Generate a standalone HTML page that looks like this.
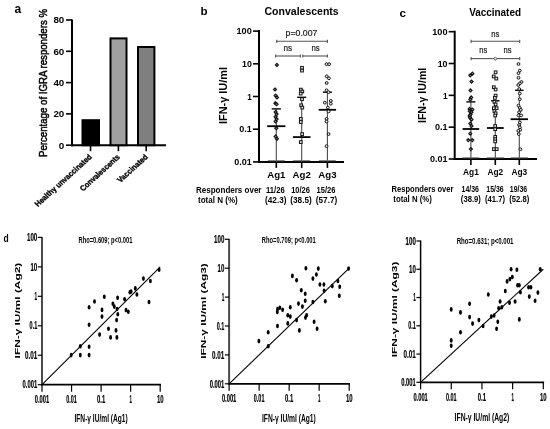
<!DOCTYPE html>
<html><head><meta charset="utf-8"><style>
html,body{margin:0;padding:0;background:#fff;}
svg{display:block;font-family:"Liberation Sans", sans-serif;filter:blur(0.35px);}
</style></head><body>
<svg width="550" height="429" viewBox="0 0 550 429">
<rect width="550" height="429" fill="#fff"/>
<text x="14.60" y="12.60" font-size="12" font-weight="700" text-anchor="start" fill="#000">a</text>
<line x1="72.00" y1="19.50" x2="72.00" y2="146.20" stroke="#000" stroke-width="2" stroke-linecap="butt"/>
<line x1="71.00" y1="145.20" x2="166.00" y2="145.20" stroke="#000" stroke-width="2" stroke-linecap="butt"/>
<line x1="66.00" y1="145.20" x2="72.00" y2="145.20" stroke="#000" stroke-width="1.6" stroke-linecap="butt"/>
<text x="64.30" y="148.50" font-size="9.3" font-weight="700" text-anchor="end" fill="#000" textLength="5.50" lengthAdjust="spacingAndGlyphs">0</text>
<line x1="66.00" y1="113.90" x2="72.00" y2="113.90" stroke="#000" stroke-width="1.6" stroke-linecap="butt"/>
<text x="64.30" y="117.20" font-size="9.3" font-weight="700" text-anchor="end" fill="#000" textLength="10.90" lengthAdjust="spacingAndGlyphs">20</text>
<line x1="66.00" y1="82.60" x2="72.00" y2="82.60" stroke="#000" stroke-width="1.6" stroke-linecap="butt"/>
<text x="64.30" y="85.90" font-size="9.3" font-weight="700" text-anchor="end" fill="#000" textLength="10.90" lengthAdjust="spacingAndGlyphs">40</text>
<line x1="66.00" y1="51.30" x2="72.00" y2="51.30" stroke="#000" stroke-width="1.6" stroke-linecap="butt"/>
<text x="64.30" y="54.60" font-size="9.3" font-weight="700" text-anchor="end" fill="#000" textLength="10.90" lengthAdjust="spacingAndGlyphs">60</text>
<line x1="66.00" y1="20.00" x2="72.00" y2="20.00" stroke="#000" stroke-width="1.6" stroke-linecap="butt"/>
<text x="64.30" y="23.30" font-size="9.3" font-weight="700" text-anchor="end" fill="#000" textLength="10.90" lengthAdjust="spacingAndGlyphs">80</text>
<rect x="82.50" y="120.20" width="16.50" height="25.00" fill="#000" stroke="#000" stroke-width="2.0"/>
<rect x="110.50" y="38.40" width="16.00" height="106.80" fill="#a0a0a0" stroke="#000" stroke-width="2.0"/>
<rect x="138.00" y="47.00" width="16.40" height="98.20" fill="#7f7f7f" stroke="#000" stroke-width="2.0"/>
<line x1="90.50" y1="145.20" x2="90.50" y2="151.20" stroke="#000" stroke-width="1.6" stroke-linecap="butt"/>
<line x1="118.40" y1="145.20" x2="118.40" y2="151.20" stroke="#000" stroke-width="1.6" stroke-linecap="butt"/>
<line x1="146.20" y1="145.20" x2="146.20" y2="151.20" stroke="#000" stroke-width="1.6" stroke-linecap="butt"/>
<text transform="translate(47.20,83.00) scale(1.18,1) rotate(-90)" x="0" y="0" font-size="9.6" font-weight="400" text-anchor="middle" fill="#000" textLength="148.00" lengthAdjust="spacingAndGlyphs" stroke="#000" stroke-width="0.4">Percentage of IGRA responders %</text>
<text transform="translate(92.50,157.50) scale(1.1,1) rotate(-45)" x="0" y="0" font-size="7.6" font-weight="700" text-anchor="end" fill="#000" stroke="#000" stroke-width="0.3" textLength="70.00" lengthAdjust="spacingAndGlyphs">Healthy unvaccinated</text>
<text transform="translate(120.50,157.50) scale(1.1,1) rotate(-45)" x="0" y="0" font-size="7.6" font-weight="700" text-anchor="end" fill="#000" stroke="#000" stroke-width="0.3" textLength="48.00" lengthAdjust="spacingAndGlyphs">Convalescents</text>
<text transform="translate(148.50,157.50) scale(1.1,1) rotate(-45)" x="0" y="0" font-size="7.6" font-weight="700" text-anchor="end" fill="#000" stroke="#000" stroke-width="0.3" textLength="36.00" lengthAdjust="spacingAndGlyphs">Vaccinated</text>
<text x="200.40" y="15.10" font-size="11.6" font-weight="700" text-anchor="start" fill="#000">b</text>
<text x="264.50" y="15.00" font-size="10.4" font-weight="700" text-anchor="start" fill="#000" textLength="74.20" lengthAdjust="spacingAndGlyphs">Convalescents</text>
<line x1="259.00" y1="30.10" x2="259.00" y2="162.90" stroke="#000" stroke-width="2" stroke-linecap="butt"/>
<line x1="258.00" y1="161.90" x2="344.00" y2="161.90" stroke="#000" stroke-width="2" stroke-linecap="butt"/>
<line x1="253.00" y1="31.10" x2="259.00" y2="31.10" stroke="#000" stroke-width="1.6" stroke-linecap="butt"/>
<text x="251.80" y="34.30" font-size="9" font-weight="700" text-anchor="end" fill="#000" textLength="15.30" lengthAdjust="spacingAndGlyphs">100</text>
<line x1="253.00" y1="63.80" x2="259.00" y2="63.80" stroke="#000" stroke-width="1.6" stroke-linecap="butt"/>
<text x="251.80" y="67.00" font-size="9" font-weight="700" text-anchor="end" fill="#000" textLength="9.80" lengthAdjust="spacingAndGlyphs">10</text>
<line x1="253.00" y1="96.50" x2="259.00" y2="96.50" stroke="#000" stroke-width="1.6" stroke-linecap="butt"/>
<text x="251.80" y="99.70" font-size="9" font-weight="700" text-anchor="end" fill="#000" textLength="4.60" lengthAdjust="spacingAndGlyphs">1</text>
<line x1="253.00" y1="129.20" x2="259.00" y2="129.20" stroke="#000" stroke-width="1.6" stroke-linecap="butt"/>
<text x="251.80" y="132.40" font-size="9" font-weight="700" text-anchor="end" fill="#000" textLength="12.60" lengthAdjust="spacingAndGlyphs">0.1</text>
<line x1="253.00" y1="161.90" x2="259.00" y2="161.90" stroke="#000" stroke-width="1.6" stroke-linecap="butt"/>
<text x="251.80" y="165.10" font-size="9" font-weight="700" text-anchor="end" fill="#000" textLength="17.60" lengthAdjust="spacingAndGlyphs">0.01</text>
<text transform="translate(227.10,95.50) rotate(-90)" x="0" y="0" font-size="10.6" font-weight="700" text-anchor="middle" fill="#000" textLength="57.00" lengthAdjust="spacingAndGlyphs">IFN-γ IU/ml</text>
<line x1="276.30" y1="161.90" x2="276.30" y2="167.90" stroke="#000" stroke-width="1.6" stroke-linecap="butt"/>
<text x="276.30" y="178.30" font-size="9.6" font-weight="700" text-anchor="middle" fill="#000" textLength="18.20" lengthAdjust="spacingAndGlyphs">Ag1</text>
<line x1="301.70" y1="161.90" x2="301.70" y2="167.90" stroke="#000" stroke-width="1.6" stroke-linecap="butt"/>
<text x="301.70" y="178.30" font-size="9.6" font-weight="700" text-anchor="middle" fill="#000" textLength="18.20" lengthAdjust="spacingAndGlyphs">Ag2</text>
<line x1="327.40" y1="161.90" x2="327.40" y2="167.90" stroke="#000" stroke-width="1.6" stroke-linecap="butt"/>
<text x="327.40" y="178.30" font-size="9.6" font-weight="700" text-anchor="middle" fill="#000" textLength="18.20" lengthAdjust="spacingAndGlyphs">Ag3</text>
<text x="196.00" y="193.00" font-size="8.5" font-weight="700" text-anchor="start" fill="#000" textLength="65.50" lengthAdjust="spacingAndGlyphs">Responders over</text>
<text x="198.00" y="202.50" font-size="8.5" font-weight="700" text-anchor="start" fill="#000" textLength="39.80" lengthAdjust="spacingAndGlyphs">total N (%)</text>
<text x="275.35" y="193.00" font-size="8.5" font-weight="700" text-anchor="middle" fill="#000" textLength="18.80" lengthAdjust="spacingAndGlyphs">11/26</text>
<text x="275.80" y="202.50" font-size="8.5" font-weight="700" text-anchor="middle" fill="#000" textLength="21.40" lengthAdjust="spacingAndGlyphs">(42.3)</text>
<text x="300.55" y="193.00" font-size="8.5" font-weight="700" text-anchor="middle" fill="#000" textLength="18.80" lengthAdjust="spacingAndGlyphs">10/26</text>
<text x="301.00" y="202.50" font-size="8.5" font-weight="700" text-anchor="middle" fill="#000" textLength="21.40" lengthAdjust="spacingAndGlyphs">(38.5)</text>
<text x="326.00" y="193.00" font-size="8.5" font-weight="700" text-anchor="middle" fill="#000" textLength="18.80" lengthAdjust="spacingAndGlyphs">15/26</text>
<text x="326.50" y="202.50" font-size="8.5" font-weight="700" text-anchor="middle" fill="#000" textLength="21.40" lengthAdjust="spacingAndGlyphs">(57.7)</text>
<text x="399.60" y="16.60" font-size="11.6" font-weight="700" text-anchor="start" fill="#000">c</text>
<text x="469.20" y="15.90" font-size="10.4" font-weight="700" text-anchor="start" fill="#000" textLength="51.80" lengthAdjust="spacingAndGlyphs">Vaccinated</text>
<line x1="454.70" y1="30.70" x2="454.70" y2="160.00" stroke="#000" stroke-width="2" stroke-linecap="butt"/>
<line x1="453.70" y1="159.00" x2="537.00" y2="159.00" stroke="#000" stroke-width="2" stroke-linecap="butt"/>
<line x1="448.70" y1="31.70" x2="454.70" y2="31.70" stroke="#000" stroke-width="1.6" stroke-linecap="butt"/>
<text x="447.50" y="34.90" font-size="9" font-weight="700" text-anchor="end" fill="#000" textLength="15.30" lengthAdjust="spacingAndGlyphs">100</text>
<line x1="448.70" y1="63.52" x2="454.70" y2="63.52" stroke="#000" stroke-width="1.6" stroke-linecap="butt"/>
<text x="447.50" y="66.72" font-size="9" font-weight="700" text-anchor="end" fill="#000" textLength="9.80" lengthAdjust="spacingAndGlyphs">10</text>
<line x1="448.70" y1="95.35" x2="454.70" y2="95.35" stroke="#000" stroke-width="1.6" stroke-linecap="butt"/>
<text x="447.50" y="98.55" font-size="9" font-weight="700" text-anchor="end" fill="#000" textLength="4.60" lengthAdjust="spacingAndGlyphs">1</text>
<line x1="448.70" y1="127.17" x2="454.70" y2="127.17" stroke="#000" stroke-width="1.6" stroke-linecap="butt"/>
<text x="447.50" y="130.38" font-size="9" font-weight="700" text-anchor="end" fill="#000" textLength="12.60" lengthAdjust="spacingAndGlyphs">0.1</text>
<line x1="448.70" y1="159.00" x2="454.70" y2="159.00" stroke="#000" stroke-width="1.6" stroke-linecap="butt"/>
<text x="447.50" y="162.20" font-size="9" font-weight="700" text-anchor="end" fill="#000" textLength="17.60" lengthAdjust="spacingAndGlyphs">0.01</text>
<text transform="translate(426.30,95.40) rotate(-90)" x="0" y="0" font-size="10.6" font-weight="700" text-anchor="middle" fill="#000" textLength="55.30" lengthAdjust="spacingAndGlyphs">IFN-γ IU/ml</text>
<line x1="470.90" y1="159.00" x2="470.90" y2="165.00" stroke="#000" stroke-width="1.6" stroke-linecap="butt"/>
<text x="470.90" y="174.80" font-size="9.0" font-weight="700" text-anchor="middle" fill="#000" textLength="15.80" lengthAdjust="spacingAndGlyphs">Ag1</text>
<line x1="495.30" y1="159.00" x2="495.30" y2="165.00" stroke="#000" stroke-width="1.6" stroke-linecap="butt"/>
<text x="495.30" y="174.80" font-size="9.0" font-weight="700" text-anchor="middle" fill="#000" textLength="15.80" lengthAdjust="spacingAndGlyphs">Ag2</text>
<line x1="519.30" y1="159.00" x2="519.30" y2="165.00" stroke="#000" stroke-width="1.6" stroke-linecap="butt"/>
<text x="519.30" y="174.80" font-size="9.0" font-weight="700" text-anchor="middle" fill="#000" textLength="15.80" lengthAdjust="spacingAndGlyphs">Ag3</text>
<text x="391.60" y="192.30" font-size="8.5" font-weight="700" text-anchor="start" fill="#000" textLength="61.90" lengthAdjust="spacingAndGlyphs">Responders over</text>
<text x="393.30" y="201.80" font-size="8.5" font-weight="700" text-anchor="start" fill="#000" textLength="38.50" lengthAdjust="spacingAndGlyphs">total N (%)</text>
<text x="470.25" y="192.30" font-size="8.5" font-weight="700" text-anchor="middle" fill="#000" textLength="17.40" lengthAdjust="spacingAndGlyphs">14/36</text>
<text x="470.85" y="201.80" font-size="8.5" font-weight="700" text-anchor="middle" fill="#000" textLength="20.00" lengthAdjust="spacingAndGlyphs">(38.9)</text>
<text x="495.05" y="192.30" font-size="8.5" font-weight="700" text-anchor="middle" fill="#000" textLength="17.40" lengthAdjust="spacingAndGlyphs">15/36</text>
<text x="495.05" y="201.80" font-size="8.5" font-weight="700" text-anchor="middle" fill="#000" textLength="20.00" lengthAdjust="spacingAndGlyphs">(41.7)</text>
<text x="518.50" y="192.30" font-size="8.5" font-weight="700" text-anchor="middle" fill="#000" textLength="17.40" lengthAdjust="spacingAndGlyphs">19/36</text>
<text x="519.30" y="201.80" font-size="8.5" font-weight="700" text-anchor="middle" fill="#000" textLength="20.00" lengthAdjust="spacingAndGlyphs">(52.8)</text>
<line x1="276.30" y1="108.90" x2="276.30" y2="161.90" stroke="#4a4a4a" stroke-width="1.1" stroke-linecap="butt"/>
<line x1="267.20" y1="126.20" x2="285.40" y2="126.20" stroke="#000" stroke-width="1.8" stroke-linecap="butt"/>
<line x1="271.70" y1="108.90" x2="280.90" y2="108.90" stroke="#000" stroke-width="1.4" stroke-linecap="butt"/>
<line x1="301.70" y1="97.30" x2="301.70" y2="161.90" stroke="#4a4a4a" stroke-width="1.1" stroke-linecap="butt"/>
<line x1="292.90" y1="137.10" x2="310.50" y2="137.10" stroke="#000" stroke-width="1.8" stroke-linecap="butt"/>
<line x1="297.20" y1="97.30" x2="306.20" y2="97.30" stroke="#000" stroke-width="1.4" stroke-linecap="butt"/>
<line x1="327.40" y1="92.20" x2="327.40" y2="161.90" stroke="#4a4a4a" stroke-width="1.1" stroke-linecap="butt"/>
<line x1="318.70" y1="109.80" x2="336.10" y2="109.80" stroke="#000" stroke-width="1.8" stroke-linecap="butt"/>
<line x1="322.90" y1="92.20" x2="331.90" y2="92.20" stroke="#000" stroke-width="1.4" stroke-linecap="butt"/>
<line x1="470.90" y1="101.90" x2="470.90" y2="159.00" stroke="#4a4a4a" stroke-width="1.1" stroke-linecap="butt"/>
<line x1="462.60" y1="129.00" x2="479.20" y2="129.00" stroke="#000" stroke-width="1.8" stroke-linecap="butt"/>
<line x1="466.40" y1="101.90" x2="475.40" y2="101.90" stroke="#000" stroke-width="1.4" stroke-linecap="butt"/>
<line x1="495.30" y1="100.80" x2="495.30" y2="159.00" stroke="#4a4a4a" stroke-width="1.1" stroke-linecap="butt"/>
<line x1="486.90" y1="128.00" x2="503.70" y2="128.00" stroke="#000" stroke-width="1.8" stroke-linecap="butt"/>
<line x1="491.10" y1="100.80" x2="499.50" y2="100.80" stroke="#000" stroke-width="1.4" stroke-linecap="butt"/>
<line x1="519.30" y1="90.30" x2="519.30" y2="159.00" stroke="#4a4a4a" stroke-width="1.1" stroke-linecap="butt"/>
<line x1="510.60" y1="119.20" x2="528.00" y2="119.20" stroke="#000" stroke-width="1.8" stroke-linecap="butt"/>
<line x1="515.10" y1="90.30" x2="523.50" y2="90.30" stroke="#000" stroke-width="1.4" stroke-linecap="butt"/>
<path d="M276.90,63.35 L278.45,64.90 L276.90,66.45 L275.35,64.90 Z" fill="#aaa" stroke="#111" stroke-width="1.1"/>
<path d="M275.00,87.95 L276.55,89.50 L275.00,91.05 L273.45,89.50 Z" fill="#aaa" stroke="#111" stroke-width="1.1"/>
<path d="M275.60,94.05 L277.15,95.60 L275.60,97.15 L274.05,95.60 Z" fill="#aaa" stroke="#111" stroke-width="1.1"/>
<path d="M277.00,95.85 L278.55,97.40 L277.00,98.95 L275.45,97.40 Z" fill="#aaa" stroke="#111" stroke-width="1.1"/>
<path d="M275.40,101.65 L276.95,103.20 L275.40,104.75 L273.85,103.20 Z" fill="#aaa" stroke="#111" stroke-width="1.1"/>
<path d="M276.60,102.65 L278.15,104.20 L276.60,105.75 L275.05,104.20 Z" fill="#aaa" stroke="#111" stroke-width="1.1"/>
<path d="M275.60,110.45 L277.15,112.00 L275.60,113.55 L274.05,112.00 Z" fill="#aaa" stroke="#111" stroke-width="1.1"/>
<path d="M276.60,112.55 L278.15,114.10 L276.60,115.65 L275.05,114.10 Z" fill="#aaa" stroke="#111" stroke-width="1.1"/>
<path d="M275.60,115.25 L277.15,116.80 L275.60,118.35 L274.05,116.80 Z" fill="#aaa" stroke="#111" stroke-width="1.1"/>
<path d="M276.60,117.55 L278.15,119.10 L276.60,120.65 L275.05,119.10 Z" fill="#aaa" stroke="#111" stroke-width="1.1"/>
<path d="M275.60,119.85 L277.15,121.40 L275.60,122.95 L274.05,121.40 Z" fill="#aaa" stroke="#111" stroke-width="1.1"/>
<path d="M276.30,126.65 L277.85,128.20 L276.30,129.75 L274.75,128.20 Z" fill="#aaa" stroke="#111" stroke-width="1.1"/>
<path d="M275.60,134.95 L277.15,136.50 L275.60,138.05 L274.05,136.50 Z" fill="#aaa" stroke="#111" stroke-width="1.1"/>
<path d="M276.90,137.25 L278.45,138.80 L276.90,140.35 L275.35,138.80 Z" fill="#aaa" stroke="#111" stroke-width="1.1"/>
<rect x="300.65" y="66.45" width="2.7" height="2.7" fill="#eee" stroke="#111" stroke-width="1.0"/>
<rect x="300.65" y="69.25" width="2.7" height="2.7" fill="#eee" stroke="#111" stroke-width="1.0"/>
<rect x="299.55" y="88.25" width="2.7" height="2.7" fill="#eee" stroke="#111" stroke-width="1.0"/>
<rect x="300.95" y="90.15" width="2.7" height="2.7" fill="#eee" stroke="#111" stroke-width="1.0"/>
<rect x="299.35" y="92.25" width="2.7" height="2.7" fill="#eee" stroke="#111" stroke-width="1.0"/>
<rect x="300.65" y="97.85" width="2.7" height="2.7" fill="#eee" stroke="#111" stroke-width="1.0"/>
<rect x="299.85" y="103.95" width="2.7" height="2.7" fill="#eee" stroke="#111" stroke-width="1.0"/>
<rect x="300.95" y="106.25" width="2.7" height="2.7" fill="#eee" stroke="#111" stroke-width="1.0"/>
<rect x="299.45" y="117.55" width="2.7" height="2.7" fill="#eee" stroke="#111" stroke-width="1.0"/>
<rect x="299.45" y="120.65" width="2.7" height="2.7" fill="#eee" stroke="#111" stroke-width="1.0"/>
<rect x="300.75" y="132.75" width="2.7" height="2.7" fill="#eee" stroke="#111" stroke-width="1.0"/>
<rect x="299.45" y="140.75" width="2.7" height="2.7" fill="#eee" stroke="#111" stroke-width="1.0"/>
<circle cx="326.50" cy="64.20" r="1.4" fill="#eee" stroke="#111" stroke-width="1.0"/>
<circle cx="329.10" cy="64.20" r="1.4" fill="#eee" stroke="#111" stroke-width="1.0"/>
<circle cx="326.70" cy="76.30" r="1.4" fill="#eee" stroke="#111" stroke-width="1.0"/>
<circle cx="328.90" cy="78.30" r="1.4" fill="#eee" stroke="#111" stroke-width="1.0"/>
<circle cx="326.70" cy="83.00" r="1.4" fill="#eee" stroke="#111" stroke-width="1.0"/>
<circle cx="326.60" cy="90.30" r="1.4" fill="#eee" stroke="#111" stroke-width="1.0"/>
<circle cx="328.50" cy="92.20" r="1.4" fill="#eee" stroke="#111" stroke-width="1.0"/>
<circle cx="330.80" cy="100.90" r="1.4" fill="#eee" stroke="#111" stroke-width="1.0"/>
<circle cx="324.80" cy="102.70" r="1.4" fill="#eee" stroke="#111" stroke-width="1.0"/>
<circle cx="330.80" cy="103.70" r="1.4" fill="#eee" stroke="#111" stroke-width="1.0"/>
<circle cx="327.90" cy="107.60" r="1.4" fill="#eee" stroke="#111" stroke-width="1.0"/>
<circle cx="328.60" cy="111.40" r="1.4" fill="#eee" stroke="#111" stroke-width="1.0"/>
<circle cx="326.60" cy="118.90" r="1.4" fill="#eee" stroke="#111" stroke-width="1.0"/>
<circle cx="326.60" cy="121.50" r="1.4" fill="#eee" stroke="#111" stroke-width="1.0"/>
<circle cx="328.60" cy="134.10" r="1.4" fill="#eee" stroke="#111" stroke-width="1.0"/>
<circle cx="326.60" cy="146.20" r="1.4" fill="#eee" stroke="#111" stroke-width="1.0"/>
<path d="M472.40,72.15 L473.95,73.70 L472.40,75.25 L470.85,73.70 Z" fill="#aaa" stroke="#111" stroke-width="1.1"/>
<path d="M470.30,73.75 L471.85,75.30 L470.30,76.85 L468.75,75.30 Z" fill="#aaa" stroke="#111" stroke-width="1.1"/>
<path d="M471.50,80.05 L473.05,81.60 L471.50,83.15 L469.95,81.60 Z" fill="#aaa" stroke="#111" stroke-width="1.1"/>
<path d="M470.50,88.85 L472.05,90.40 L470.50,91.95 L468.95,90.40 Z" fill="#aaa" stroke="#111" stroke-width="1.1"/>
<path d="M471.20,95.85 L472.75,97.40 L471.20,98.95 L469.65,97.40 Z" fill="#aaa" stroke="#111" stroke-width="1.1"/>
<path d="M470.30,97.85 L471.85,99.40 L470.30,100.95 L468.75,99.40 Z" fill="#aaa" stroke="#111" stroke-width="1.1"/>
<path d="M469.60,107.35 L471.15,108.90 L469.60,110.45 L468.05,108.90 Z" fill="#aaa" stroke="#111" stroke-width="1.1"/>
<path d="M472.40,108.05 L473.95,109.60 L472.40,111.15 L470.85,109.60 Z" fill="#aaa" stroke="#111" stroke-width="1.1"/>
<path d="M469.80,109.65 L471.35,111.20 L469.80,112.75 L468.25,111.20 Z" fill="#aaa" stroke="#111" stroke-width="1.1"/>
<path d="M471.40,110.65 L472.95,112.20 L471.40,113.75 L469.85,112.20 Z" fill="#aaa" stroke="#111" stroke-width="1.1"/>
<path d="M470.50,112.75 L472.05,114.30 L470.50,115.85 L468.95,114.30 Z" fill="#aaa" stroke="#111" stroke-width="1.1"/>
<path d="M469.60,114.45 L471.15,116.00 L469.60,117.55 L468.05,116.00 Z" fill="#aaa" stroke="#111" stroke-width="1.1"/>
<path d="M470.00,116.25 L471.55,117.80 L470.00,119.35 L468.45,117.80 Z" fill="#aaa" stroke="#111" stroke-width="1.1"/>
<path d="M471.50,118.05 L473.05,119.60 L471.50,121.15 L469.95,119.60 Z" fill="#aaa" stroke="#111" stroke-width="1.1"/>
<path d="M470.30,121.95 L471.85,123.50 L470.30,125.05 L468.75,123.50 Z" fill="#aaa" stroke="#111" stroke-width="1.1"/>
<path d="M471.50,124.45 L473.05,126.00 L471.50,127.55 L469.95,126.00 Z" fill="#aaa" stroke="#111" stroke-width="1.1"/>
<path d="M470.30,132.15 L471.85,133.70 L470.30,135.25 L468.75,133.70 Z" fill="#aaa" stroke="#111" stroke-width="1.1"/>
<path d="M468.30,138.55 L469.85,140.10 L468.30,141.65 L466.75,140.10 Z" fill="#aaa" stroke="#111" stroke-width="1.1"/>
<path d="M472.30,138.55 L473.85,140.10 L472.30,141.65 L470.75,140.10 Z" fill="#aaa" stroke="#111" stroke-width="1.1"/>
<path d="M470.90,147.55 L472.45,149.10 L470.90,150.65 L469.35,149.10 Z" fill="#aaa" stroke="#111" stroke-width="1.1"/>
<rect x="494.25" y="70.95" width="2.7" height="2.7" fill="#eee" stroke="#111" stroke-width="1.0"/>
<rect x="492.35" y="75.15" width="2.7" height="2.7" fill="#eee" stroke="#111" stroke-width="1.0"/>
<rect x="494.95" y="77.25" width="2.7" height="2.7" fill="#eee" stroke="#111" stroke-width="1.0"/>
<rect x="492.45" y="85.85" width="2.7" height="2.7" fill="#eee" stroke="#111" stroke-width="1.0"/>
<rect x="494.25" y="88.15" width="2.7" height="2.7" fill="#eee" stroke="#111" stroke-width="1.0"/>
<rect x="494.25" y="94.25" width="2.7" height="2.7" fill="#eee" stroke="#111" stroke-width="1.0"/>
<rect x="493.55" y="96.55" width="2.7" height="2.7" fill="#eee" stroke="#111" stroke-width="1.0"/>
<rect x="493.05" y="100.55" width="2.7" height="2.7" fill="#eee" stroke="#111" stroke-width="1.0"/>
<rect x="494.25" y="103.05" width="2.7" height="2.7" fill="#eee" stroke="#111" stroke-width="1.0"/>
<rect x="492.45" y="106.85" width="2.7" height="2.7" fill="#eee" stroke="#111" stroke-width="1.0"/>
<rect x="495.25" y="106.85" width="2.7" height="2.7" fill="#eee" stroke="#111" stroke-width="1.0"/>
<rect x="493.05" y="109.65" width="2.7" height="2.7" fill="#eee" stroke="#111" stroke-width="1.0"/>
<rect x="494.25" y="111.95" width="2.7" height="2.7" fill="#eee" stroke="#111" stroke-width="1.0"/>
<rect x="493.85" y="114.15" width="2.7" height="2.7" fill="#eee" stroke="#111" stroke-width="1.0"/>
<rect x="493.85" y="124.65" width="2.7" height="2.7" fill="#eee" stroke="#111" stroke-width="1.0"/>
<rect x="493.85" y="127.85" width="2.7" height="2.7" fill="#eee" stroke="#111" stroke-width="1.0"/>
<rect x="493.85" y="135.55" width="2.7" height="2.7" fill="#eee" stroke="#111" stroke-width="1.0"/>
<rect x="493.85" y="137.85" width="2.7" height="2.7" fill="#eee" stroke="#111" stroke-width="1.0"/>
<rect x="493.85" y="140.05" width="2.7" height="2.7" fill="#eee" stroke="#111" stroke-width="1.0"/>
<rect x="492.55" y="147.75" width="2.7" height="2.7" fill="#eee" stroke="#111" stroke-width="1.0"/>
<rect x="495.35" y="147.75" width="2.7" height="2.7" fill="#eee" stroke="#111" stroke-width="1.0"/>
<circle cx="518.50" cy="64.00" r="1.4" fill="#eee" stroke="#111" stroke-width="1.0"/>
<circle cx="519.80" cy="70.60" r="1.4" fill="#eee" stroke="#111" stroke-width="1.0"/>
<circle cx="518.50" cy="73.20" r="1.4" fill="#eee" stroke="#111" stroke-width="1.0"/>
<circle cx="518.50" cy="77.80" r="1.4" fill="#eee" stroke="#111" stroke-width="1.0"/>
<circle cx="521.50" cy="82.00" r="1.4" fill="#eee" stroke="#111" stroke-width="1.0"/>
<circle cx="519.80" cy="83.50" r="1.4" fill="#eee" stroke="#111" stroke-width="1.0"/>
<circle cx="518.30" cy="85.00" r="1.4" fill="#eee" stroke="#111" stroke-width="1.0"/>
<circle cx="519.20" cy="89.00" r="1.4" fill="#eee" stroke="#111" stroke-width="1.0"/>
<circle cx="519.80" cy="93.50" r="1.4" fill="#eee" stroke="#111" stroke-width="1.0"/>
<circle cx="519.80" cy="99.20" r="1.4" fill="#eee" stroke="#111" stroke-width="1.0"/>
<circle cx="518.50" cy="105.60" r="1.4" fill="#eee" stroke="#111" stroke-width="1.0"/>
<circle cx="519.80" cy="107.90" r="1.4" fill="#eee" stroke="#111" stroke-width="1.0"/>
<circle cx="520.80" cy="109.90" r="1.4" fill="#eee" stroke="#111" stroke-width="1.0"/>
<circle cx="519.10" cy="112.20" r="1.4" fill="#eee" stroke="#111" stroke-width="1.0"/>
<circle cx="518.40" cy="115.40" r="1.4" fill="#eee" stroke="#111" stroke-width="1.0"/>
<circle cx="521.20" cy="115.40" r="1.4" fill="#eee" stroke="#111" stroke-width="1.0"/>
<circle cx="519.90" cy="122.40" r="1.4" fill="#eee" stroke="#111" stroke-width="1.0"/>
<circle cx="519.10" cy="125.00" r="1.4" fill="#eee" stroke="#111" stroke-width="1.0"/>
<circle cx="519.90" cy="127.30" r="1.4" fill="#eee" stroke="#111" stroke-width="1.0"/>
<circle cx="520.20" cy="129.80" r="1.4" fill="#eee" stroke="#111" stroke-width="1.0"/>
<circle cx="518.30" cy="130.90" r="1.4" fill="#eee" stroke="#111" stroke-width="1.0"/>
<circle cx="518.80" cy="134.10" r="1.4" fill="#eee" stroke="#111" stroke-width="1.0"/>
<circle cx="520.40" cy="149.20" r="1.4" fill="#eee" stroke="#111" stroke-width="1.0"/>
<line x1="267.80" y1="160.80" x2="284.80" y2="160.80" stroke="#555" stroke-width="1.0" stroke-linecap="butt"/>
<line x1="293.20" y1="160.80" x2="310.20" y2="160.80" stroke="#555" stroke-width="1.0" stroke-linecap="butt"/>
<line x1="318.90" y1="160.80" x2="335.90" y2="160.80" stroke="#555" stroke-width="1.0" stroke-linecap="butt"/>
<line x1="462.40" y1="157.90" x2="479.40" y2="157.90" stroke="#555" stroke-width="1.0" stroke-linecap="butt"/>
<line x1="486.80" y1="157.90" x2="503.80" y2="157.90" stroke="#555" stroke-width="1.0" stroke-linecap="butt"/>
<line x1="510.80" y1="157.90" x2="527.80" y2="157.90" stroke="#555" stroke-width="1.0" stroke-linecap="butt"/>
<line x1="276.70" y1="41.30" x2="327.40" y2="41.30" stroke="#555" stroke-width="1.1" stroke-linecap="butt"/>
<line x1="276.70" y1="39.70" x2="276.70" y2="42.90" stroke="#555" stroke-width="1.1" stroke-linecap="butt"/>
<line x1="327.40" y1="39.70" x2="327.40" y2="42.90" stroke="#555" stroke-width="1.1" stroke-linecap="butt"/>
<line x1="275.60" y1="56.00" x2="300.40" y2="56.00" stroke="#555" stroke-width="1.1" stroke-linecap="butt"/>
<line x1="275.60" y1="54.40" x2="275.60" y2="57.60" stroke="#555" stroke-width="1.1" stroke-linecap="butt"/>
<line x1="300.40" y1="54.40" x2="300.40" y2="57.60" stroke="#555" stroke-width="1.1" stroke-linecap="butt"/>
<line x1="302.70" y1="56.00" x2="327.40" y2="56.00" stroke="#555" stroke-width="1.1" stroke-linecap="butt"/>
<line x1="302.70" y1="54.40" x2="302.70" y2="57.60" stroke="#555" stroke-width="1.1" stroke-linecap="butt"/>
<line x1="327.40" y1="54.40" x2="327.40" y2="57.60" stroke="#555" stroke-width="1.1" stroke-linecap="butt"/>
<text x="285.60" y="35.90" font-size="8.6" font-weight="400" text-anchor="start" fill="#1a1a1a" textLength="31.80" lengthAdjust="spacingAndGlyphs" stroke="#1a1a1a" stroke-width="0.2">p=0.007</text>
<text x="283.60" y="51.10" font-size="8.6" font-weight="400" text-anchor="start" fill="#1a1a1a" textLength="8.60" lengthAdjust="spacingAndGlyphs" stroke="#1a1a1a" stroke-width="0.2">ns</text>
<text x="311.40" y="51.10" font-size="8.6" font-weight="400" text-anchor="start" fill="#1a1a1a" textLength="8.20" lengthAdjust="spacingAndGlyphs" stroke="#1a1a1a" stroke-width="0.2">ns</text>
<line x1="471.10" y1="41.30" x2="519.70" y2="41.30" stroke="#555" stroke-width="1.1" stroke-linecap="butt"/>
<line x1="471.10" y1="39.70" x2="471.10" y2="42.90" stroke="#555" stroke-width="1.1" stroke-linecap="butt"/>
<line x1="519.70" y1="39.70" x2="519.70" y2="42.90" stroke="#555" stroke-width="1.1" stroke-linecap="butt"/>
<line x1="471.10" y1="58.60" x2="495.30" y2="58.60" stroke="#555" stroke-width="1.1" stroke-linecap="butt"/>
<line x1="471.10" y1="57.00" x2="471.10" y2="60.20" stroke="#555" stroke-width="1.1" stroke-linecap="butt"/>
<line x1="495.30" y1="57.00" x2="495.30" y2="60.20" stroke="#555" stroke-width="1.1" stroke-linecap="butt"/>
<line x1="495.30" y1="58.60" x2="519.70" y2="58.60" stroke="#555" stroke-width="1.1" stroke-linecap="butt"/>
<line x1="495.30" y1="57.00" x2="495.30" y2="60.20" stroke="#555" stroke-width="1.1" stroke-linecap="butt"/>
<line x1="519.70" y1="57.00" x2="519.70" y2="60.20" stroke="#555" stroke-width="1.1" stroke-linecap="butt"/>
<circle cx="495.3" cy="58.6" r="1.3" fill="#fff" stroke="#555" stroke-width="0.8"/>
<text x="491.20" y="36.70" font-size="8.6" font-weight="400" text-anchor="start" fill="#1a1a1a" textLength="8.00" lengthAdjust="spacingAndGlyphs" stroke="#1a1a1a" stroke-width="0.2">ns</text>
<text x="479.30" y="53.00" font-size="8.6" font-weight="400" text-anchor="start" fill="#1a1a1a" textLength="7.80" lengthAdjust="spacingAndGlyphs" stroke="#1a1a1a" stroke-width="0.2">ns</text>
<text x="503.50" y="53.00" font-size="8.6" font-weight="400" text-anchor="start" fill="#1a1a1a" textLength="8.00" lengthAdjust="spacingAndGlyphs" stroke="#1a1a1a" stroke-width="0.2">ns</text>
<text x="3.60" y="242.00" font-size="10.6" font-weight="700" text-anchor="start" fill="#000" textLength="5.20" lengthAdjust="spacingAndGlyphs">d</text>
<line x1="42.00" y1="236.90" x2="42.00" y2="385.50" stroke="#4a4a4a" stroke-width="2.0" stroke-linecap="butt"/>
<line x1="41.40" y1="384.70" x2="161.00" y2="384.70" stroke="#000" stroke-width="1.7" stroke-linecap="butt"/>
<line x1="37.80" y1="237.40" x2="42.00" y2="237.40" stroke="#000" stroke-width="1.2" stroke-linecap="butt"/>
<text x="37.20" y="241.10" font-size="10.2" font-weight="700" text-anchor="end" fill="#000" textLength="10.20" lengthAdjust="spacingAndGlyphs" stroke="#000" stroke-width="0.2">100</text>
<line x1="37.80" y1="266.86" x2="42.00" y2="266.86" stroke="#000" stroke-width="1.2" stroke-linecap="butt"/>
<text x="37.20" y="270.56" font-size="10.2" font-weight="700" text-anchor="end" fill="#000" textLength="6.80" lengthAdjust="spacingAndGlyphs" stroke="#000" stroke-width="0.2">10</text>
<line x1="37.80" y1="296.32" x2="42.00" y2="296.32" stroke="#000" stroke-width="1.2" stroke-linecap="butt"/>
<text x="37.20" y="300.02" font-size="10.2" font-weight="700" text-anchor="end" fill="#000" textLength="2.60" lengthAdjust="spacingAndGlyphs" stroke="#000" stroke-width="0.2">1</text>
<line x1="37.80" y1="325.78" x2="42.00" y2="325.78" stroke="#000" stroke-width="1.2" stroke-linecap="butt"/>
<text x="37.20" y="329.48" font-size="10.2" font-weight="700" text-anchor="end" fill="#000" textLength="7.60" lengthAdjust="spacingAndGlyphs" stroke="#000" stroke-width="0.2">0.1</text>
<line x1="37.80" y1="355.24" x2="42.00" y2="355.24" stroke="#000" stroke-width="1.2" stroke-linecap="butt"/>
<text x="37.20" y="358.94" font-size="10.2" font-weight="700" text-anchor="end" fill="#000" textLength="12.20" lengthAdjust="spacingAndGlyphs" stroke="#000" stroke-width="0.2">0.01</text>
<line x1="37.80" y1="384.70" x2="42.00" y2="384.70" stroke="#000" stroke-width="1.2" stroke-linecap="butt"/>
<text x="37.20" y="388.40" font-size="10.2" font-weight="700" text-anchor="end" fill="#000" textLength="14.60" lengthAdjust="spacingAndGlyphs" stroke="#000" stroke-width="0.2">0.001</text>
<line x1="42.00" y1="384.70" x2="42.00" y2="391.70" stroke="#000" stroke-width="1.2" stroke-linecap="butt"/>
<text x="42.00" y="403.10" font-size="10.2" font-weight="700" text-anchor="middle" fill="#000" textLength="14.40" lengthAdjust="spacingAndGlyphs" stroke="#000" stroke-width="0.2">0.001</text>
<line x1="71.55" y1="384.70" x2="71.55" y2="391.70" stroke="#000" stroke-width="1.2" stroke-linecap="butt"/>
<text x="71.55" y="403.10" font-size="10.2" font-weight="700" text-anchor="middle" fill="#000" textLength="10.60" lengthAdjust="spacingAndGlyphs" stroke="#000" stroke-width="0.2">0.01</text>
<line x1="101.10" y1="384.70" x2="101.10" y2="391.70" stroke="#000" stroke-width="1.2" stroke-linecap="butt"/>
<text x="101.10" y="403.10" font-size="10.2" font-weight="700" text-anchor="middle" fill="#000" textLength="8.20" lengthAdjust="spacingAndGlyphs" stroke="#000" stroke-width="0.2">0.1</text>
<line x1="130.65" y1="384.70" x2="130.65" y2="391.70" stroke="#000" stroke-width="1.2" stroke-linecap="butt"/>
<text x="130.65" y="403.10" font-size="10.2" font-weight="700" text-anchor="middle" fill="#000" textLength="2.40" lengthAdjust="spacingAndGlyphs" stroke="#000" stroke-width="0.2">1</text>
<line x1="160.20" y1="384.70" x2="160.20" y2="391.70" stroke="#000" stroke-width="1.2" stroke-linecap="butt"/>
<text x="160.20" y="403.10" font-size="10.2" font-weight="700" text-anchor="middle" fill="#000" textLength="6.60" lengthAdjust="spacingAndGlyphs" stroke="#000" stroke-width="0.2">10</text>
<line x1="42.00" y1="384.70" x2="160.20" y2="266.86" stroke="#000" stroke-width="1.1" stroke-linecap="butt"/>
<ellipse cx="159.10" cy="269.80" rx="1.45" ry="2.3" fill="#000"/>
<ellipse cx="143.40" cy="278.60" rx="1.45" ry="2.3" fill="#000"/>
<ellipse cx="150.40" cy="281.00" rx="1.45" ry="2.3" fill="#000"/>
<ellipse cx="135.30" cy="288.40" rx="1.45" ry="2.3" fill="#000"/>
<ellipse cx="129.90" cy="292.20" rx="1.45" ry="2.3" fill="#000"/>
<ellipse cx="131.10" cy="291.50" rx="1.45" ry="2.3" fill="#000"/>
<ellipse cx="136.90" cy="294.50" rx="1.45" ry="2.3" fill="#000"/>
<ellipse cx="104.30" cy="296.80" rx="1.45" ry="2.3" fill="#000"/>
<ellipse cx="117.60" cy="297.80" rx="1.45" ry="2.3" fill="#000"/>
<ellipse cx="124.60" cy="299.20" rx="1.45" ry="2.3" fill="#000"/>
<ellipse cx="94.50" cy="301.50" rx="1.45" ry="2.3" fill="#000"/>
<ellipse cx="149.00" cy="302.00" rx="1.45" ry="2.3" fill="#000"/>
<ellipse cx="112.90" cy="303.80" rx="1.45" ry="2.3" fill="#000"/>
<ellipse cx="114.30" cy="306.60" rx="1.45" ry="2.3" fill="#000"/>
<ellipse cx="89.10" cy="307.30" rx="1.45" ry="2.3" fill="#000"/>
<ellipse cx="117.10" cy="309.00" rx="1.45" ry="2.3" fill="#000"/>
<ellipse cx="102.00" cy="309.90" rx="1.45" ry="2.3" fill="#000"/>
<ellipse cx="126.00" cy="310.10" rx="1.45" ry="2.3" fill="#000"/>
<ellipse cx="128.30" cy="311.70" rx="1.45" ry="2.3" fill="#000"/>
<ellipse cx="117.80" cy="314.30" rx="1.45" ry="2.3" fill="#000"/>
<ellipse cx="102.00" cy="316.60" rx="1.45" ry="2.3" fill="#000"/>
<ellipse cx="116.60" cy="320.10" rx="1.45" ry="2.3" fill="#000"/>
<ellipse cx="89.10" cy="324.80" rx="1.45" ry="2.3" fill="#000"/>
<ellipse cx="108.50" cy="328.80" rx="1.45" ry="2.3" fill="#000"/>
<ellipse cx="116.00" cy="330.40" rx="1.45" ry="2.3" fill="#000"/>
<ellipse cx="99.60" cy="334.60" rx="1.45" ry="2.3" fill="#000"/>
<ellipse cx="110.60" cy="337.40" rx="1.45" ry="2.3" fill="#000"/>
<ellipse cx="116.90" cy="337.40" rx="1.45" ry="2.3" fill="#000"/>
<ellipse cx="80.30" cy="346.20" rx="1.45" ry="2.3" fill="#000"/>
<ellipse cx="89.10" cy="346.70" rx="1.45" ry="2.3" fill="#000"/>
<ellipse cx="71.20" cy="355.10" rx="1.45" ry="2.3" fill="#000"/>
<ellipse cx="80.30" cy="355.10" rx="1.45" ry="2.3" fill="#000"/>
<ellipse cx="89.10" cy="355.10" rx="1.45" ry="2.3" fill="#000"/>
<text x="78.50" y="242.60" font-size="9.2" font-weight="700" text-anchor="start" fill="#000" textLength="53.90" lengthAdjust="spacingAndGlyphs">Rho=0.609; p&lt;0.001</text>
<text x="74.50" y="421.80" font-size="11.0" font-weight="700" text-anchor="start" fill="#000" textLength="53.20" lengthAdjust="spacingAndGlyphs">IFN-γ IU/ml (Ag1)</text>
<text transform="translate(19.70,310.60) rotate(-90)" x="0" y="0" font-size="7.8" font-weight="700" text-anchor="middle" fill="#000" textLength="95.60" lengthAdjust="spacingAndGlyphs">IFN-γ IU/ml (Ag2)</text>
<line x1="229.10" y1="238.80" x2="229.10" y2="384.60" stroke="#4a4a4a" stroke-width="2.0" stroke-linecap="butt"/>
<line x1="228.50" y1="383.80" x2="350.00" y2="383.80" stroke="#000" stroke-width="1.7" stroke-linecap="butt"/>
<line x1="224.90" y1="239.30" x2="229.10" y2="239.30" stroke="#000" stroke-width="1.2" stroke-linecap="butt"/>
<text x="224.30" y="243.00" font-size="10.2" font-weight="700" text-anchor="end" fill="#000" textLength="10.20" lengthAdjust="spacingAndGlyphs" stroke="#000" stroke-width="0.2">100</text>
<line x1="224.90" y1="268.20" x2="229.10" y2="268.20" stroke="#000" stroke-width="1.2" stroke-linecap="butt"/>
<text x="224.30" y="271.90" font-size="10.2" font-weight="700" text-anchor="end" fill="#000" textLength="6.80" lengthAdjust="spacingAndGlyphs" stroke="#000" stroke-width="0.2">10</text>
<line x1="224.90" y1="297.10" x2="229.10" y2="297.10" stroke="#000" stroke-width="1.2" stroke-linecap="butt"/>
<text x="224.30" y="300.80" font-size="10.2" font-weight="700" text-anchor="end" fill="#000" textLength="2.60" lengthAdjust="spacingAndGlyphs" stroke="#000" stroke-width="0.2">1</text>
<line x1="224.90" y1="326.00" x2="229.10" y2="326.00" stroke="#000" stroke-width="1.2" stroke-linecap="butt"/>
<text x="224.30" y="329.70" font-size="10.2" font-weight="700" text-anchor="end" fill="#000" textLength="7.60" lengthAdjust="spacingAndGlyphs" stroke="#000" stroke-width="0.2">0.1</text>
<line x1="224.90" y1="354.90" x2="229.10" y2="354.90" stroke="#000" stroke-width="1.2" stroke-linecap="butt"/>
<text x="224.30" y="358.60" font-size="10.2" font-weight="700" text-anchor="end" fill="#000" textLength="12.20" lengthAdjust="spacingAndGlyphs" stroke="#000" stroke-width="0.2">0.01</text>
<line x1="224.90" y1="383.80" x2="229.10" y2="383.80" stroke="#000" stroke-width="1.2" stroke-linecap="butt"/>
<text x="224.30" y="387.50" font-size="10.2" font-weight="700" text-anchor="end" fill="#000" textLength="14.60" lengthAdjust="spacingAndGlyphs" stroke="#000" stroke-width="0.2">0.001</text>
<line x1="229.10" y1="383.80" x2="229.10" y2="390.80" stroke="#000" stroke-width="1.2" stroke-linecap="butt"/>
<text x="229.10" y="402.20" font-size="10.2" font-weight="700" text-anchor="middle" fill="#000" textLength="14.40" lengthAdjust="spacingAndGlyphs" stroke="#000" stroke-width="0.2">0.001</text>
<line x1="259.12" y1="383.80" x2="259.12" y2="390.80" stroke="#000" stroke-width="1.2" stroke-linecap="butt"/>
<text x="259.12" y="402.20" font-size="10.2" font-weight="700" text-anchor="middle" fill="#000" textLength="10.60" lengthAdjust="spacingAndGlyphs" stroke="#000" stroke-width="0.2">0.01</text>
<line x1="289.15" y1="383.80" x2="289.15" y2="390.80" stroke="#000" stroke-width="1.2" stroke-linecap="butt"/>
<text x="289.15" y="402.20" font-size="10.2" font-weight="700" text-anchor="middle" fill="#000" textLength="8.20" lengthAdjust="spacingAndGlyphs" stroke="#000" stroke-width="0.2">0.1</text>
<line x1="319.17" y1="383.80" x2="319.17" y2="390.80" stroke="#000" stroke-width="1.2" stroke-linecap="butt"/>
<text x="319.17" y="402.20" font-size="10.2" font-weight="700" text-anchor="middle" fill="#000" textLength="2.40" lengthAdjust="spacingAndGlyphs" stroke="#000" stroke-width="0.2">1</text>
<line x1="349.20" y1="383.80" x2="349.20" y2="390.80" stroke="#000" stroke-width="1.2" stroke-linecap="butt"/>
<text x="349.20" y="402.20" font-size="10.2" font-weight="700" text-anchor="middle" fill="#000" textLength="6.60" lengthAdjust="spacingAndGlyphs" stroke="#000" stroke-width="0.2">10</text>
<line x1="229.10" y1="383.80" x2="349.20" y2="268.20" stroke="#000" stroke-width="1.1" stroke-linecap="butt"/>
<ellipse cx="305.90" cy="268.20" rx="1.45" ry="2.3" fill="#000"/>
<ellipse cx="318.30" cy="268.60" rx="1.45" ry="2.3" fill="#000"/>
<ellipse cx="348.60" cy="268.60" rx="1.45" ry="2.3" fill="#000"/>
<ellipse cx="316.40" cy="274.50" rx="1.45" ry="2.3" fill="#000"/>
<ellipse cx="292.40" cy="275.90" rx="1.45" ry="2.3" fill="#000"/>
<ellipse cx="312.90" cy="278.60" rx="1.45" ry="2.3" fill="#000"/>
<ellipse cx="296.60" cy="280.30" rx="1.45" ry="2.3" fill="#000"/>
<ellipse cx="337.90" cy="281.00" rx="1.45" ry="2.3" fill="#000"/>
<ellipse cx="319.90" cy="284.50" rx="1.45" ry="2.3" fill="#000"/>
<ellipse cx="323.90" cy="284.50" rx="1.45" ry="2.3" fill="#000"/>
<ellipse cx="332.30" cy="286.10" rx="1.45" ry="2.3" fill="#000"/>
<ellipse cx="339.70" cy="286.80" rx="1.45" ry="2.3" fill="#000"/>
<ellipse cx="301.30" cy="290.30" rx="1.45" ry="2.3" fill="#000"/>
<ellipse cx="324.10" cy="290.80" rx="1.45" ry="2.3" fill="#000"/>
<ellipse cx="305.20" cy="293.80" rx="1.45" ry="2.3" fill="#000"/>
<ellipse cx="339.30" cy="295.70" rx="1.45" ry="2.3" fill="#000"/>
<ellipse cx="305.20" cy="300.80" rx="1.45" ry="2.3" fill="#000"/>
<ellipse cx="325.30" cy="301.30" rx="1.45" ry="2.3" fill="#000"/>
<ellipse cx="312.90" cy="302.00" rx="1.45" ry="2.3" fill="#000"/>
<ellipse cx="298.50" cy="303.60" rx="1.45" ry="2.3" fill="#000"/>
<ellipse cx="302.40" cy="306.60" rx="1.45" ry="2.3" fill="#000"/>
<ellipse cx="290.30" cy="307.30" rx="1.45" ry="2.3" fill="#000"/>
<ellipse cx="279.80" cy="307.80" rx="1.45" ry="2.3" fill="#000"/>
<ellipse cx="277.50" cy="309.00" rx="1.45" ry="2.3" fill="#000"/>
<ellipse cx="282.60" cy="309.70" rx="1.45" ry="2.3" fill="#000"/>
<ellipse cx="277.30" cy="312.00" rx="1.45" ry="2.3" fill="#000"/>
<ellipse cx="287.80" cy="315.20" rx="1.45" ry="2.3" fill="#000"/>
<ellipse cx="290.30" cy="316.60" rx="1.45" ry="2.3" fill="#000"/>
<ellipse cx="306.60" cy="315.20" rx="1.45" ry="2.3" fill="#000"/>
<ellipse cx="305.50" cy="317.60" rx="1.45" ry="2.3" fill="#000"/>
<ellipse cx="296.60" cy="320.10" rx="1.45" ry="2.3" fill="#000"/>
<ellipse cx="314.10" cy="321.80" rx="1.45" ry="2.3" fill="#000"/>
<ellipse cx="287.80" cy="323.40" rx="1.45" ry="2.3" fill="#000"/>
<ellipse cx="277.50" cy="326.00" rx="1.45" ry="2.3" fill="#000"/>
<ellipse cx="317.10" cy="328.80" rx="1.45" ry="2.3" fill="#000"/>
<ellipse cx="299.40" cy="330.40" rx="1.45" ry="2.3" fill="#000"/>
<ellipse cx="268.20" cy="332.30" rx="1.45" ry="2.3" fill="#000"/>
<ellipse cx="258.90" cy="341.10" rx="1.45" ry="2.3" fill="#000"/>
<ellipse cx="268.20" cy="346.20" rx="1.45" ry="2.3" fill="#000"/>
<text x="261.80" y="242.80" font-size="9.2" font-weight="700" text-anchor="start" fill="#000" textLength="54.00" lengthAdjust="spacingAndGlyphs">Rho=0.709; p&lt;0.001</text>
<text x="262.00" y="421.50" font-size="11.0" font-weight="700" text-anchor="start" fill="#000" textLength="53.80" lengthAdjust="spacingAndGlyphs">IFN-γ IU/ml (Ag1)</text>
<text transform="translate(205.70,311.00) rotate(-90)" x="0" y="0" font-size="7.8" font-weight="700" text-anchor="middle" fill="#000" textLength="95.60" lengthAdjust="spacingAndGlyphs">IFN-γ IU/ml (Ag3)</text>
<line x1="420.60" y1="240.50" x2="420.60" y2="383.10" stroke="#000" stroke-width="1.5" stroke-linecap="butt"/>
<line x1="420.00" y1="382.30" x2="544.10" y2="382.30" stroke="#000" stroke-width="1.7" stroke-linecap="butt"/>
<line x1="416.40" y1="241.00" x2="420.60" y2="241.00" stroke="#000" stroke-width="1.2" stroke-linecap="butt"/>
<text x="415.80" y="244.70" font-size="10.2" font-weight="700" text-anchor="end" fill="#000" textLength="10.20" lengthAdjust="spacingAndGlyphs" stroke="#000" stroke-width="0.2">100</text>
<line x1="416.40" y1="269.26" x2="420.60" y2="269.26" stroke="#000" stroke-width="1.2" stroke-linecap="butt"/>
<text x="415.80" y="272.96" font-size="10.2" font-weight="700" text-anchor="end" fill="#000" textLength="6.80" lengthAdjust="spacingAndGlyphs" stroke="#000" stroke-width="0.2">10</text>
<line x1="416.40" y1="297.52" x2="420.60" y2="297.52" stroke="#000" stroke-width="1.2" stroke-linecap="butt"/>
<text x="415.80" y="301.22" font-size="10.2" font-weight="700" text-anchor="end" fill="#000" textLength="2.60" lengthAdjust="spacingAndGlyphs" stroke="#000" stroke-width="0.2">1</text>
<line x1="416.40" y1="325.78" x2="420.60" y2="325.78" stroke="#000" stroke-width="1.2" stroke-linecap="butt"/>
<text x="415.80" y="329.48" font-size="10.2" font-weight="700" text-anchor="end" fill="#000" textLength="7.60" lengthAdjust="spacingAndGlyphs" stroke="#000" stroke-width="0.2">0.1</text>
<line x1="416.40" y1="354.04" x2="420.60" y2="354.04" stroke="#000" stroke-width="1.2" stroke-linecap="butt"/>
<text x="415.80" y="357.74" font-size="10.2" font-weight="700" text-anchor="end" fill="#000" textLength="12.20" lengthAdjust="spacingAndGlyphs" stroke="#000" stroke-width="0.2">0.01</text>
<line x1="416.40" y1="382.30" x2="420.60" y2="382.30" stroke="#000" stroke-width="1.2" stroke-linecap="butt"/>
<text x="415.80" y="386.00" font-size="10.2" font-weight="700" text-anchor="end" fill="#000" textLength="14.60" lengthAdjust="spacingAndGlyphs" stroke="#000" stroke-width="0.2">0.001</text>
<line x1="420.60" y1="382.30" x2="420.60" y2="389.30" stroke="#000" stroke-width="1.2" stroke-linecap="butt"/>
<text x="420.60" y="400.70" font-size="10.2" font-weight="700" text-anchor="middle" fill="#000" textLength="14.40" lengthAdjust="spacingAndGlyphs" stroke="#000" stroke-width="0.2">0.001</text>
<line x1="451.27" y1="382.30" x2="451.27" y2="389.30" stroke="#000" stroke-width="1.2" stroke-linecap="butt"/>
<text x="451.27" y="400.70" font-size="10.2" font-weight="700" text-anchor="middle" fill="#000" textLength="10.60" lengthAdjust="spacingAndGlyphs" stroke="#000" stroke-width="0.2">0.01</text>
<line x1="481.95" y1="382.30" x2="481.95" y2="389.30" stroke="#000" stroke-width="1.2" stroke-linecap="butt"/>
<text x="481.95" y="400.70" font-size="10.2" font-weight="700" text-anchor="middle" fill="#000" textLength="8.20" lengthAdjust="spacingAndGlyphs" stroke="#000" stroke-width="0.2">0.1</text>
<line x1="512.62" y1="382.30" x2="512.62" y2="389.30" stroke="#000" stroke-width="1.2" stroke-linecap="butt"/>
<text x="512.62" y="400.70" font-size="10.2" font-weight="700" text-anchor="middle" fill="#000" textLength="2.40" lengthAdjust="spacingAndGlyphs" stroke="#000" stroke-width="0.2">1</text>
<line x1="543.30" y1="382.30" x2="543.30" y2="389.30" stroke="#000" stroke-width="1.2" stroke-linecap="butt"/>
<text x="543.30" y="400.70" font-size="10.2" font-weight="700" text-anchor="middle" fill="#000" textLength="6.60" lengthAdjust="spacingAndGlyphs" stroke="#000" stroke-width="0.2">10</text>
<line x1="420.60" y1="382.30" x2="543.30" y2="269.26" stroke="#000" stroke-width="1.1" stroke-linecap="butt"/>
<ellipse cx="511.10" cy="269.30" rx="1.45" ry="2.3" fill="#000"/>
<ellipse cx="516.90" cy="269.80" rx="1.45" ry="2.3" fill="#000"/>
<ellipse cx="540.20" cy="269.30" rx="1.45" ry="2.3" fill="#000"/>
<ellipse cx="512.30" cy="277.00" rx="1.45" ry="2.3" fill="#000"/>
<ellipse cx="509.90" cy="279.10" rx="1.45" ry="2.3" fill="#000"/>
<ellipse cx="507.10" cy="281.40" rx="1.45" ry="2.3" fill="#000"/>
<ellipse cx="517.60" cy="285.20" rx="1.45" ry="2.3" fill="#000"/>
<ellipse cx="519.30" cy="285.20" rx="1.45" ry="2.3" fill="#000"/>
<ellipse cx="528.60" cy="287.30" rx="1.45" ry="2.3" fill="#000"/>
<ellipse cx="530.90" cy="287.30" rx="1.45" ry="2.3" fill="#000"/>
<ellipse cx="505.30" cy="291.00" rx="1.45" ry="2.3" fill="#000"/>
<ellipse cx="520.40" cy="292.20" rx="1.45" ry="2.3" fill="#000"/>
<ellipse cx="537.90" cy="292.60" rx="1.45" ry="2.3" fill="#000"/>
<ellipse cx="488.30" cy="294.50" rx="1.45" ry="2.3" fill="#000"/>
<ellipse cx="529.30" cy="296.60" rx="1.45" ry="2.3" fill="#000"/>
<ellipse cx="500.10" cy="301.50" rx="1.45" ry="2.3" fill="#000"/>
<ellipse cx="515.10" cy="301.50" rx="1.45" ry="2.3" fill="#000"/>
<ellipse cx="535.10" cy="300.80" rx="1.45" ry="2.3" fill="#000"/>
<ellipse cx="509.50" cy="302.70" rx="1.45" ry="2.3" fill="#000"/>
<ellipse cx="469.60" cy="303.80" rx="1.45" ry="2.3" fill="#000"/>
<ellipse cx="501.80" cy="307.30" rx="1.45" ry="2.3" fill="#000"/>
<ellipse cx="498.70" cy="308.30" rx="1.45" ry="2.3" fill="#000"/>
<ellipse cx="451.20" cy="309.40" rx="1.45" ry="2.3" fill="#000"/>
<ellipse cx="460.50" cy="312.40" rx="1.45" ry="2.3" fill="#000"/>
<ellipse cx="494.10" cy="315.50" rx="1.45" ry="2.3" fill="#000"/>
<ellipse cx="491.30" cy="316.60" rx="1.45" ry="2.3" fill="#000"/>
<ellipse cx="469.60" cy="317.10" rx="1.45" ry="2.3" fill="#000"/>
<ellipse cx="519.30" cy="319.40" rx="1.45" ry="2.3" fill="#000"/>
<ellipse cx="478.90" cy="320.10" rx="1.45" ry="2.3" fill="#000"/>
<ellipse cx="497.80" cy="321.80" rx="1.45" ry="2.3" fill="#000"/>
<ellipse cx="472.60" cy="323.60" rx="1.45" ry="2.3" fill="#000"/>
<ellipse cx="483.10" cy="326.00" rx="1.45" ry="2.3" fill="#000"/>
<ellipse cx="496.60" cy="328.80" rx="1.45" ry="2.3" fill="#000"/>
<ellipse cx="460.50" cy="332.30" rx="1.45" ry="2.3" fill="#000"/>
<ellipse cx="451.20" cy="340.40" rx="1.45" ry="2.3" fill="#000"/>
<ellipse cx="451.20" cy="345.80" rx="1.45" ry="2.3" fill="#000"/>
<text x="456.70" y="243.60" font-size="9.2" font-weight="700" text-anchor="start" fill="#000" textLength="56.80" lengthAdjust="spacingAndGlyphs">Rho=0.631; p&lt;0.001</text>
<text x="454.60" y="421.00" font-size="11.0" font-weight="700" text-anchor="start" fill="#000" textLength="54.70" lengthAdjust="spacingAndGlyphs">IFN-γ IU/ml (Ag2)</text>
<text transform="translate(396.60,309.40) rotate(-90)" x="0" y="0" font-size="7.8" font-weight="700" text-anchor="middle" fill="#000" textLength="95.60" lengthAdjust="spacingAndGlyphs">IFN-γ IU/ml (Ag3)</text>
</svg>
</body></html>
